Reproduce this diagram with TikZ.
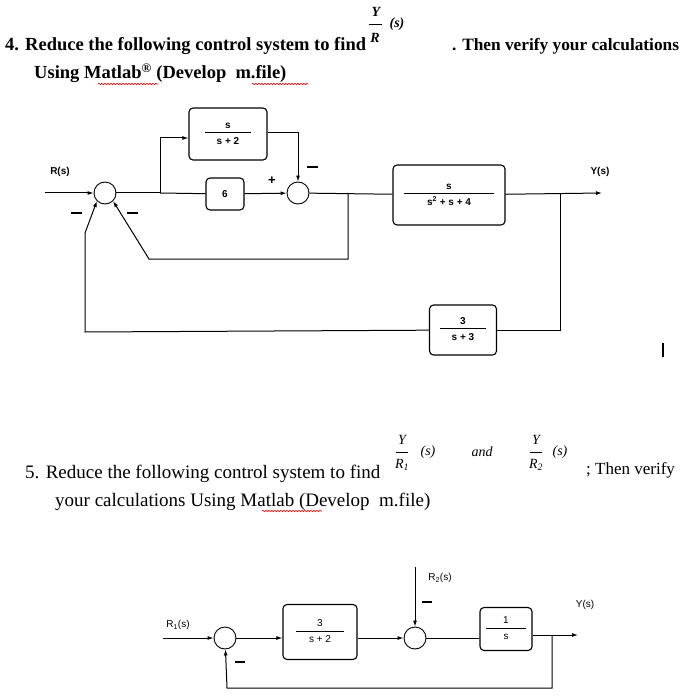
\documentclass[tikz,border=0pt]{standalone}
\usepackage{fontspec}
\setmainfont{Liberation Serif}
\setsansfont{Liberation Sans}
\usetikzlibrary{arrows.meta,decorations.pathmorphing}
\newcommand\bfr[4]{{\setlength{\arrayrulewidth}{#4}\begin{tabular}{@{}c@{}}\makebox[#1]{#2}\\[1pt]\hline\rule{0pt}{11pt}#3\end{tabular}}}
\begin{document}
\begin{tikzpicture}[x=1pt,y=-1pt,
  blk/.style={draw,line width=1.1pt,rounded corners=4pt,inner sep=0pt,font=\sffamily\bfseries\fontsize{10}{11}\selectfont},
  sumj/.style={draw,line width=0.9pt,circle,minimum size=22pt,inner sep=0pt},
  ln/.style={line width=1pt},
  ar/.style={line width=1pt,-{Latex[length=6pt,width=4pt]}},
  lab/.style={font=\sffamily\bfseries\fontsize{10}{11}\selectfont,inner sep=0pt},
  mns/.style={fill=black,draw=none,minimum height=1.8pt,inner sep=0pt},
  ttl/.style={font=\bfseries\fontsize{18.5}{20}\selectfont,anchor=base west,inner sep=0pt},
  txt/.style={font=\fontsize{19}{21}\selectfont,anchor=base west,inner sep=0pt},
  squig/.style={red,line width=0.6pt,decorate,decoration={snake,amplitude=0.8pt,segment length=3pt}}]
\useasboundingbox[fill=white] (0,0) rectangle (697,700);
% ---- titles
\node[ttl] (t1) at (5,51) {4. Reduce the following control system to find};
\node[font=\bfseries\itshape\fontsize{14}{14}\selectfont,inner sep=0pt] (fy) at (376,12) {Y};
\draw[line width=0.8pt] (369,24) -- (382,24);
\node[font=\bfseries\itshape\fontsize{14}{14}\selectfont,inner sep=0pt] (fr) at (375,38) {R};
\node[font=\bfseries\itshape\fontsize{14}{14}\selectfont,inner sep=0pt] (fs) at (397,24) {(s)};
\node[ttl,font=\bfseries\fontsize{17.3}{20}\selectfont] (t1b) at (452,51) {. Then verify your calculations};
\node[ttl] (t2) at (34,79) {Using Matlab\textsuperscript{\textregistered} (Develop \ m.file)};
\draw[squig] (98,84) -- (158,84);
\draw[squig] (252,84) -- (308,84);
\node[txt] (t3) at (25,478) {5. Reduce the following control system to find};
\node[txt] (t4) at (55,506) {your calculations Using Matlab (Develop \ m.file)};
\draw[squig] (262,511) -- (322,511);
\node[font=\itshape\fontsize{14}{14}\selectfont,inner sep=0pt] (g1) at (402,440) {Y};
\draw[line width=0.7pt] (396,452) -- (408,452);
\node[font=\itshape\fontsize{14}{14}\selectfont,inner sep=0pt] (g2) at (402,465) {R\textsubscript{1}};
\node[font=\itshape\fontsize{14}{14}\selectfont,inner sep=0pt] (g3) at (428,452) {(s)};
\node[font=\itshape\fontsize{14}{14}\selectfont,inner sep=0pt] (g4) at (482,452) {and};
\node[font=\itshape\fontsize{14}{14}\selectfont,inner sep=0pt] (h1) at (536,440) {Y};
\draw[line width=0.7pt] (530,452) -- (542,452);
\node[font=\itshape\fontsize{14}{14}\selectfont,inner sep=0pt] (h2) at (536,465) {R\textsubscript{2}};
\node[font=\itshape\fontsize{14}{14}\selectfont,inner sep=0pt] (h3) at (560,452) {(s)};
\node[txt,font=\fontsize{17}{21}\selectfont] (t5) at (586,474) {; Then verify};
% ---- top diagram
\node[lab] (Rs) at (60,172) {R(s)};
\coordinate (in1) at (45,193);
\node[sumj] (s1) at (105,193) {};
\coordinate (b1) at (160,193);
\node[blk,minimum width=78pt,minimum height=52pt] (g) at (228,134) {\bfr{46pt}{s}{s + 2}{0.8pt}};
\node[blk,minimum width=38pt,minimum height=32pt] (six) at (225,194) {6};
\node[sumj] (s2) at (298,193) {};
\node[blk,minimum width=112pt,minimum height=60pt] (G) at (449,195) {\bfr{90pt}{s}{s\textsuperscript{2} + s + 4}{0.8pt}};
\node[blk,minimum width=67pt,minimum height=50pt] (H) at (463,330) {\bfr{46pt}{3}{s + 3}{0.8pt}};
\node[lab] (Ys) at (600,172) {Y(s)};
\coordinate (out1) at (602,193);
\coordinate (b2) at (348,193);
\coordinate (b3) at (560,193);
\draw[ar] (in1) -- (s1);
\draw[ln] (s1) -- (b1);
\draw[ln] (b1) -- (six);
\draw[ar] (b1) |- (g.west |- 0,138);
\draw[ar] (g.east |- 0,133) -| (s2);
\draw[ar] (six) -- (s2);
\draw[ln] (s2) -- (G);
\draw[ar] (G) -- (out1);
\draw[ln] (b3) |- (H);
\draw[ar] (H) -- (85,332) -- (85,233) -- (s1.south west);
\draw[ar] (b2) |- (149,259) -- (s1.south east);
\node[font=\sffamily\bfseries\fontsize{13}{13}\selectfont,inner sep=0pt] (p1) at (272,181) {+};
\node[mns,minimum width=11pt] (m1) at (312,167) {};
\node[mns,minimum width=11pt] (m2) at (76,213) {};
\node[mns,minimum width=11pt] (m3) at (132,213) {};
\node[mns,minimum height=14pt,minimum width=2.2pt] (cur) at (663,350) {};
% ---- bottom diagram
\node[lab,font=\sffamily\fontsize{10}{11}\selectfont] (R1) at (178,625) {R\textsubscript{1}(s)};
\coordinate (in2) at (163,638);
\node[sumj] (s3) at (225,638) {};
\node[blk,font=\sffamily\fontsize{10}{11}\selectfont,minimum width=74pt,minimum height=55pt] (A) at (320,632) {\bfr{48pt}{3}{s + 2}{0.6pt}};
\node[sumj] (s4) at (415,638) {};
\node[lab,font=\sffamily\fontsize{10}{11}\selectfont] (R2) at (440,578) {R\textsubscript{2}(s)};
\coordinate (r2top) at (415,567);
\node[blk,font=\sffamily\fontsize{10}{11}\selectfont,minimum width=52pt,minimum height=43pt] (B) at (506,629) {\bfr{40pt}{1}{s}{0.6pt}};
\node[lab,font=\sffamily\fontsize{10}{11}\selectfont] (Y2) at (585,605) {Y(s)};
\coordinate (out2) at (578,635);
\coordinate (b4) at (552,635);
\draw[ar] (in2) -- (s3);
\draw[ar] (s3) -- (A.west |- s3);
\draw[ar] (A.east |- s4) -- (s4);
\draw[ar] (r2top) -- (s4);
\draw[ln] (s4) -- (B.west |- s4);
\draw[ar] (B.east |- out2) -- (out2);
\draw[ar] (b4) |- (227,688) -- (s3);
\node[mns,minimum width=10pt] (m4) at (427,602) {};
\node[mns,minimum width=10pt] (m5) at (240,662) {};
\end{tikzpicture}
\end{document}
